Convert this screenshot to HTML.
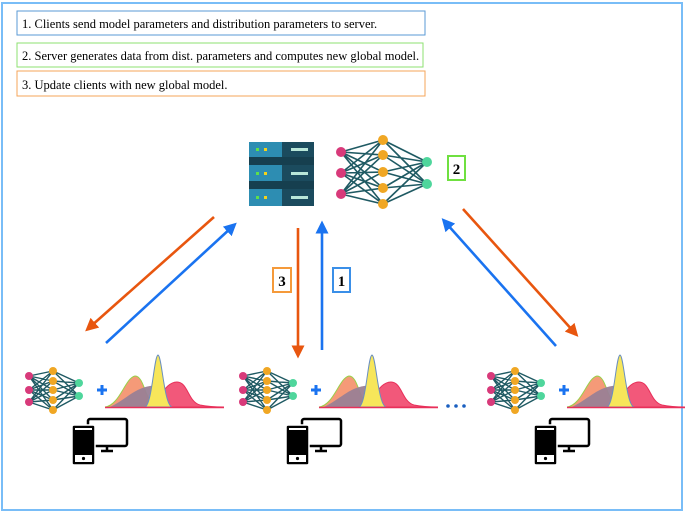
<!DOCTYPE html>
<html><head><meta charset="utf-8"><style>
html,body{margin:0;padding:0;background:#fff;}
svg{display:block;}
text{font-family:"Liberation Serif",serif;}
</style></head><body>
<svg width="685" height="514" viewBox="0 0 685 514" xmlns="http://www.w3.org/2000/svg">
<defs>
<marker id="mo" markerWidth="5" markerHeight="5" refX="2.5" refY="2.5" orient="auto" markerUnits="strokeWidth"><path d="M0,0 L5,2.5 L0,5 Z" fill="#e8560f"/></marker>
<marker id="mb" markerWidth="5" markerHeight="5" refX="2.5" refY="2.5" orient="auto" markerUnits="strokeWidth"><path d="M0,0 L5,2.5 L0,5 Z" fill="#1a73f0"/></marker>
<g id="nn">
 <g stroke="#1f5a63" stroke-width="1.4">
  <path d="M0,5L24,0M0,5L24,10M0,5L24,19M0,5L24,29M0,5L24,39M0,19L24,0M0,19L24,10M0,19L24,19M0,19L24,29M0,19L24,39M0,31L24,0M0,31L24,10M0,31L24,19M0,31L24,29M0,31L24,39"/>
  <path d="M24,0L50,12M24,10L50,12M24,19L50,12M24,29L50,12M24,39L50,12M24,0L50,25M24,10L50,25M24,19L50,25M24,29L50,25M24,39L50,25"/>
 </g>
 <g fill="#d83a7a"><circle cx="0" cy="5" r="4"/><circle cx="0" cy="19" r="4"/><circle cx="0" cy="31" r="4"/></g>
 <g fill="#f0a724"><circle cx="24" cy="0" r="4"/><circle cx="24" cy="10" r="4"/><circle cx="24" cy="19" r="4"/><circle cx="24" cy="29" r="4"/><circle cx="24" cy="39" r="4"/></g>
 <g fill="#4fd69c"><circle cx="50" cy="12" r="4"/><circle cx="50" cy="25" r="4"/></g>
</g>
<g id="client">
 <use href="#nn" x="29" y="371"/>
 <path d="M97,390h10M102,385v10" stroke="#1a73f0" stroke-width="3"/>
 <path d="M105,407 C120,405 125,378 135,376 C143,376 145,395 150,400 L150,407Z" fill="#f59a78" stroke="#9ad04a" stroke-width="1"/>
 <path d="M110,407 C125,400 135,388 150,386 C165,384 180,395 190,407Z" fill="#9a7f95" opacity="0.95"/>
 <path d="M150,407 C160,400 165,382 177,382 C188,382 188,402 200,405 C210,407 220,407 224,407Z" fill="#f2587a" stroke="#e8305a" stroke-width="1"/>
 <path d="M145,407 C152,405 154,356 158,355 C162,356 164,405 172,407Z" fill="#f7e65a" stroke="#6a8fc0" stroke-width="1"/>
 <path d="M105,407.5H224" stroke="#e8305a" stroke-width="1.5"/>
 <rect x="88" y="419" width="39" height="27" rx="2" fill="none" stroke="#000" stroke-width="2.5"/>
 <path d="M107,446v5M101,451h12" stroke="#000" stroke-width="2.5"/>
 <rect x="72" y="425" width="23" height="40" rx="2" fill="#000" stroke="#fff" stroke-width="1.5"/>
 <rect x="73" y="426" width="21" height="38" rx="2" fill="#000"/>
 <rect x="75" y="428" width="17" height="2" fill="#fff"/>
 <rect x="75" y="455" width="17" height="7" fill="#fff"/>
 <circle cx="83.5" cy="458.5" r="1.6" fill="#000"/>
</g>
</defs>
<rect x="2" y="3" width="680" height="507" fill="#fff" stroke="#79bdf7" stroke-width="2"/>
<rect x="17" y="11" width="408" height="24" fill="#fff" stroke="#5a9ad6" stroke-width="1"/>
<text x="22" y="28" font-size="12.5">1. Clients send model parameters and distribution parameters to server.</text>
<rect x="17" y="43" width="406" height="24" fill="#fff" stroke="#8ee070" stroke-width="1"/>
<text x="22" y="60" font-size="12.5">2. Server generates data from dist. parameters and computes new global model.</text>
<rect x="17" y="71" width="408" height="25" fill="#fff" stroke="#f5a45a" stroke-width="1"/>
<text x="22" y="89" font-size="12.5">3. Update clients with new global model.</text>
<g>
 <rect x="249" y="142" width="65" height="64" fill="#163f4f"/>
 <rect x="249" y="142" width="33" height="15" fill="#2d8db2"/><rect x="282" y="142" width="32" height="15" fill="#1b4b5e"/>
 <rect x="249" y="165" width="33" height="16" fill="#2d8db2"/><rect x="282" y="165" width="32" height="16" fill="#1b4b5e"/>
 <rect x="249" y="189" width="33" height="17" fill="#2d8db2"/><rect x="282" y="189" width="32" height="17" fill="#1b4b5e"/>
 <g fill="#5de04a"><rect x="256" y="148" width="3" height="3"/><rect x="256" y="172" width="3" height="3"/><rect x="256" y="196" width="3" height="3"/></g>
 <g fill="#f4d21a"><rect x="264" y="148" width="3" height="3"/><rect x="264" y="172" width="3" height="3"/><rect x="264" y="196" width="3" height="3"/></g>
 <g fill="#b8e6d8"><rect x="291" y="148" width="17" height="3"/><rect x="291" y="172" width="17" height="3"/><rect x="291" y="196" width="17" height="3"/></g>
</g>
<g stroke="#1f5a63" stroke-width="1.6">
 <path d="M341,152L383,140M341,152L383,155M341,152L383,172M341,152L383,188M341,152L383,204M341,173L383,140M341,173L383,155M341,173L383,172M341,173L383,188M341,173L383,204M341,194L383,140M341,194L383,155M341,194L383,172M341,194L383,188M341,194L383,204"/>
 <path d="M383,140L427,162M383,155L427,162M383,172L427,162M383,188L427,162M383,204L427,162M383,140L427,184M383,155L427,184M383,172L427,184M383,188L427,184M383,204L427,184"/>
</g>
<g fill="#d83a7a"><circle cx="341" cy="152" r="5"/><circle cx="341" cy="173" r="5"/><circle cx="341" cy="194" r="5"/></g>
<g fill="#f0a724"><circle cx="383" cy="140" r="5"/><circle cx="383" cy="155" r="5"/><circle cx="383" cy="172" r="5"/><circle cx="383" cy="188" r="5"/><circle cx="383" cy="204" r="5"/></g>
<g fill="#4fd69c"><circle cx="427" cy="162" r="5"/><circle cx="427" cy="184" r="5"/></g>
<rect x="448" y="156" width="17" height="24" fill="#fff" stroke="#6fe040" stroke-width="2"/>
<text x="456.5" y="174" font-size="15" font-weight="bold" text-anchor="middle">2</text>
<g stroke-width="2.6" fill="none">
 <path d="M214,217L90,327" stroke="#e8560f" marker-end="url(#mo)"/>
 <path d="M106,343L232,227" stroke="#1a73f0" marker-end="url(#mb)"/>
 <path d="M298,228V352" stroke="#e8560f" marker-end="url(#mo)"/>
 <path d="M322,350V227" stroke="#1a73f0" marker-end="url(#mb)"/>
 <path d="M556,346L446,223" stroke="#1a73f0" marker-end="url(#mb)"/>
 <path d="M463,209L574,332" stroke="#e8560f" marker-end="url(#mo)"/>
</g>
<rect x="273" y="268" width="18" height="24" fill="#fff" stroke="#f59a3a" stroke-width="2"/>
<text x="282" y="286" font-size="15" font-weight="bold" text-anchor="middle">3</text>
<rect x="333" y="268" width="17" height="24" fill="#fff" stroke="#3a8fe8" stroke-width="2"/>
<text x="341.5" y="286" font-size="15" font-weight="bold" text-anchor="middle">1</text>
<use href="#client"/>
<use href="#client" x="214"/>
<use href="#client" x="462"/>
<g fill="#1a5fc0"><circle cx="448" cy="406" r="1.8"/><circle cx="456" cy="406" r="1.8"/><circle cx="464" cy="406" r="1.8"/></g>
</svg>
</body></html>
